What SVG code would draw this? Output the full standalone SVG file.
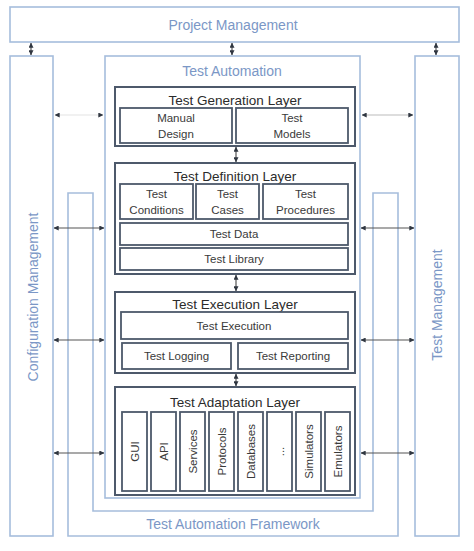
<svg xmlns="http://www.w3.org/2000/svg" width="474" height="551" viewBox="0 0 474 551">
<defs>
<marker id="ah" viewBox="0 0 8 8" refX="7.5" refY="4" markerWidth="5" markerHeight="5" orient="auto-start-reverse" markerUnits="userSpaceOnUse">
<path d="M0,0 L8,4 L0,8 Z" fill="#2f3640"/>
</marker>
<style>
.lb{fill:#fff;stroke:#a6bddc;stroke-width:1.6}
.lt{font-family:"Liberation Sans",Arial,sans-serif;fill:#7b97c6;text-anchor:middle;dominant-baseline:central;font-size:14px}
.layer{fill:#fff;stroke:#4d596b;stroke-width:2}
.inner{fill:#fff;stroke:#4d596b;stroke-width:1.8}
.ht{font-family:"Liberation Sans",Arial,sans-serif;fill:#2b2b2b;text-anchor:middle;dominant-baseline:central;font-size:13.5px}
.it{font-family:"Liberation Sans",Arial,sans-serif;fill:#3a3a3a;text-anchor:middle;dominant-baseline:central;font-size:11.5px}
.ar{stroke:#555;stroke-width:1.2;fill:none;marker-start:url(#ah);marker-end:url(#ah)}
.arf{stroke:#e4e4e4;stroke-width:1.2;fill:none;marker-start:url(#ah);marker-end:url(#ah)}
.arl{stroke:#bbbbbb;stroke-width:1.2;fill:none;marker-start:url(#ah);marker-end:url(#ah)}
</style>
</defs>
<rect width="474" height="551" fill="#fff"/>

<g id="project-management">
<rect class="lb" x="10" y="7" width="449" height="35"/>
<text class="lt" x="233" y="25">Project Management</text>
</g>

<g id="configuration-management">
<rect class="lb" x="10" y="56" width="43" height="480"/>
<text class="lt" transform="translate(33,297) rotate(-90)">Configuration Management</text>
</g>

<g id="test-management">
<rect class="lb" x="415" y="56" width="44" height="480"/>
<text class="lt" transform="translate(437,305) rotate(-90)">Test Management</text>
</g>

<g id="test-automation-framework">
<path class="lb" d="M68,193 L93,193 L93,511 L373,511 L373,193 L398,193 L398,536 L68,536 Z"/>
<text class="lt" x="233" y="524">Test Automation Framework</text>
</g>

<g id="test-automation">
<rect class="lb" x="105" y="56" width="255" height="442"/>
<text class="lt" x="232" y="71">Test Automation</text>
</g>

<g id="test-generation-layer">
<rect class="layer" x="115" y="87" width="240" height="59"/>
<text class="ht" x="235" y="100">Test Generation Layer</text>
<g id="manual-design">
<rect class="inner" x="120" y="108" width="112" height="35"/>
<text class="it" x="176" y="118">Manual</text>
<text class="it" x="176" y="134">Design</text>
</g>
<g id="test-models">
<rect class="inner" x="236" y="108" width="112" height="35"/>
<text class="it" x="292" y="118">Test</text>
<text class="it" x="292" y="134">Models</text>
</g>
</g>

<g id="test-definition-layer">
<rect class="layer" x="115" y="163" width="240" height="111"/>
<text class="ht" x="235" y="176">Test Definition Layer</text>
<g id="test-conditions">
<rect class="inner" x="120" y="184" width="73" height="35"/>
<text class="it" x="156.5" y="194">Test</text>
<text class="it" x="156.5" y="210">Conditions</text>
</g>
<g id="test-cases">
<rect class="inner" x="196" y="184" width="63" height="35"/>
<text class="it" x="227.5" y="194">Test</text>
<text class="it" x="227.5" y="210">Cases</text>
</g>
<g id="test-procedures">
<rect class="inner" x="263" y="184" width="85" height="35"/>
<text class="it" x="305.5" y="194">Test</text>
<text class="it" x="305.5" y="210">Procedures</text>
</g>
<g id="test-data">
<rect class="inner" x="120" y="223" width="228" height="22"/>
<text class="it" x="234" y="234">Test Data</text>
</g>
<g id="test-library">
<rect class="inner" x="120" y="248" width="228" height="22"/>
<text class="it" x="234" y="259">Test Library</text>
</g>
</g>

<g id="test-execution-layer">
<rect class="layer" x="115" y="292" width="240" height="81"/>
<text class="ht" x="235" y="304">Test Execution Layer</text>
<g id="test-execution">
<rect class="inner" x="121" y="312" width="227" height="27"/>
<text class="it" x="234" y="325.5">Test Execution</text>
</g>
<g id="test-logging">
<rect class="inner" x="122" y="343" width="109" height="26"/>
<text class="it" x="176.5" y="356">Test Logging</text>
</g>
<g id="test-reporting">
<rect class="inner" x="238" y="343" width="110" height="26"/>
<text class="it" x="293" y="356">Test Reporting</text>
</g>
</g>

<g id="test-adaptation-layer">
<rect class="layer" x="115" y="387" width="240" height="108"/>
<text class="ht" x="235" y="402">Test Adaptation Layer</text>
<g id="gui"><rect class="inner" x="122" y="412" width="25" height="79"/><text class="it" transform="translate(134.5,451.5) rotate(-90)">GUI</text></g>
<g id="api"><rect class="inner" x="151" y="412" width="25" height="79"/><text class="it" transform="translate(163.5,451.5) rotate(-90)">API</text></g>
<g id="services"><rect class="inner" x="180" y="412" width="25" height="79"/><text class="it" transform="translate(192.5,451.5) rotate(-90)">Services</text></g>
<g id="protocols"><rect class="inner" x="209" y="412" width="25" height="79"/><text class="it" transform="translate(221.5,451.5) rotate(-90)">Protocols</text></g>
<g id="databases"><rect class="inner" x="238" y="412" width="25" height="79"/><text class="it" transform="translate(250.5,451.5) rotate(-90)">Databases</text></g>
<g id="more"><rect class="inner" x="267" y="412" width="25" height="79"/><text class="it" transform="translate(279.5,451.5) rotate(-90)">...</text></g>
<g id="simulators"><rect class="inner" x="296" y="412" width="25" height="79"/><text class="it" transform="translate(308.5,451.5) rotate(-90)">Simulators</text></g>
<g id="emulators"><rect class="inner" x="325" y="412" width="25" height="79"/><text class="it" transform="translate(337.5,451.5) rotate(-90)">Emulators</text></g>
</g>

<g id="connectors">
<line class="ar" x1="31" y1="43" x2="31" y2="55"/>
<line class="ar" x1="232" y1="43" x2="232" y2="55"/>
<line class="ar" x1="436" y1="43" x2="436" y2="55"/>
<line class="ar" x1="236" y1="147" x2="236" y2="162"/>
<line class="ar" x1="236" y1="275" x2="236" y2="291"/>
<line class="ar" x1="236" y1="374" x2="236" y2="386"/>
<line class="arf" x1="55" y1="115" x2="103" y2="115"/>
<line class="arl" x1="362" y1="115" x2="413" y2="115"/>
<line class="ar" x1="54" y1="228" x2="104" y2="228"/>
<line class="ar" x1="361" y1="228" x2="414" y2="228"/>
<line class="ar" x1="54" y1="340" x2="104" y2="340"/>
<line class="ar" x1="361" y1="340" x2="414" y2="340"/>
<line class="ar" x1="54" y1="453" x2="104" y2="453"/>
<line class="ar" x1="361" y1="453" x2="414" y2="453"/>
</g>
</svg>
